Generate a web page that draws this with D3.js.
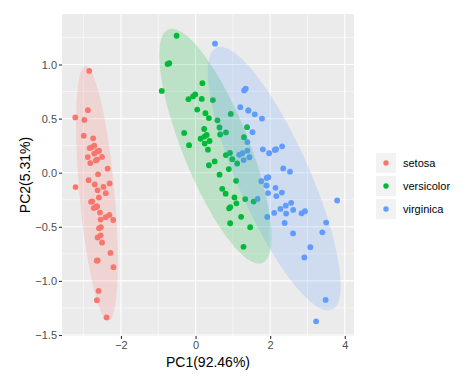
<!DOCTYPE html>
<html>
<head>
<meta charset="utf-8">
<script src="https://cdn.jsdelivr.net/npm/d3@7"></script>
<style>
  body { margin: 0; background: #fff; }
  text { font-family: "Liberation Sans", Arial, sans-serif; }
</style>
</head>
<body>
<script>
// DATA (PCA scores of iris, PC2 as shown)
var species = ["setosa", "versicolor", "virginica"];
var colors = ["#F8766D", "#00BA38", "#619CFF"];

var setosaPC1 = [-2.684,-2.714,-2.889,-2.745,-2.729,-2.281,-2.821,-2.626,-2.886,-2.673,-2.507,-2.613,-2.786,-3.224,-2.645,-2.386,-2.624,-2.648,-2.200,-2.588,-2.310,-2.544,-3.216,-2.303,-2.356,-2.507,-2.469,-2.562,-2.640,-2.632,-2.587,-2.410,-2.649,-2.599,-2.637,-2.866,-2.625,-2.801,-2.981,-2.590,-2.770,-2.849,-2.997,-2.406,-2.209,-2.714,-2.538,-2.839,-2.543,-2.703];
var setosaPC2 = [-0.319,0.177,0.145,0.318,-0.327,-0.741,0.089,-0.163,0.578,0.114,-0.645,-0.015,0.235,0.511,-1.179,-1.338,-0.811,-0.312,-0.873,-0.514,-0.391,-0.433,-0.133,-0.099,0.037,0.146,-0.131,-0.368,-0.312,0.197,0.204,-0.411,-0.813,-1.093,0.121,-0.069,-0.599,-0.269,0.488,-0.229,-0.264,0.941,0.342,-0.189,-0.437,0.250,-0.504,0.228,-0.579,-0.108];

var versicolorPC1 = [1.285,0.932,1.464,0.183,1.088,0.642,1.095,-0.749,1.044,-0.009,-0.508,0.512,0.265,0.985,-0.174,0.928,0.660,0.236,0.945,0.045,1.116,0.358,1.298,0.922,0.715,0.900,1.332,1.558,0.813,-0.306,-0.068,-0.190,0.136,1.380,0.588,0.807,1.221,0.815,0.246,0.166,0.465,0.891,0.231,-0.705,0.357,0.332,0.376,0.643,-0.906,0.299];
var versicolorPC2 = [-0.685,-0.318,-0.504,0.828,-0.075,0.418,-0.283,1.005,-0.228,0.723,1.266,0.104,0.550,0.125,0.255,-0.467,0.353,0.334,0.543,0.584,0.085,0.069,0.328,0.183,-0.149,-0.329,-0.244,-0.267,0.163,0.368,0.705,0.680,0.314,0.421,0.484,-0.194,-0.408,0.372,0.269,0.682,0.671,0.034,0.404,1.012,0.505,0.213,0.293,-0.018,0.756,0.349];

var virginicaPC1 = [2.531,1.415,2.617,1.972,2.350,3.397,0.521,2.933,2.321,2.917,1.662,1.803,2.166,1.346,1.586,1.904,1.950,3.487,3.796,1.301,2.428,1.199,3.500,1.389,2.275,2.614,1.259,1.291,2.124,2.388,2.842,3.231,2.159,1.444,1.781,3.076,2.144,1.905,1.169,2.108,2.314,1.922,1.415,2.563,2.419,1.944,1.527,1.764,1.901,1.390];
var virginicaPC2 = [0.010,0.575,-0.344,0.180,0.040,-0.551,1.193,-0.356,0.244,-0.783,-0.242,0.216,-0.216,0.777,0.540,-0.119,-0.042,-1.176,-0.257,0.761,-0.378,0.606,-0.461,0.204,-0.335,-0.561,0.180,0.117,0.210,-0.465,-0.375,-1.374,0.217,0.143,0.500,-0.688,-0.140,-0.049,0.165,-0.372,-0.184,-0.409,0.575,-0.278,-0.305,-0.188,0.375,-0.079,-0.117,0.283];

var xTicks = [-2, 0, 2, 4];
var yTicks = [-1.5, -1.0, -0.5, 0.0, 0.5, 1.0];
var xTitle = "PC1(92.46%)";
var yTitle = "PC2(5.31%)";

var groups = [
  {name: species[0], color: colors[0], x: setosaPC1, y: setosaPC2},
  {name: species[1], color: colors[1], x: versicolorPC1, y: versicolorPC2},
  {name: species[2], color: colors[2], x: virginicaPC1, y: virginicaPC2}
];

// classical covariance (cov.wt)
function covNorm(xs, ys) {
  var n = xs.length, mx = d3.mean(xs), my = d3.mean(ys);
  var a = 0, b = 0, c = 0;
  xs.forEach(function(v, i){
    a += (v - mx) * (v - mx); b += (v - mx) * (ys[i] - my); c += (ys[i] - my) * (ys[i] - my);
  });
  return {center: [mx, my], cov: [a / (n - 1), b / (n - 1), c / (n - 1)]};
}

// stat_ellipse, level 0.95
function ellipse(xs, ys) {
  var v = covNorm(xs, ys);
  var d2 = xs.length - 1;
  var f = (d2 / 2) * (Math.pow(0.05, -2 / d2) - 1);
  var radius = Math.sqrt(2 * f);
  var r11 = Math.sqrt(v.cov[0]), r12 = v.cov[1] / r11, r22 = Math.sqrt(v.cov[2] - r12 * r12);
  return d3.range(52).map(function(k){
    var t = k * 2 * Math.PI / 51;
    return [v.center[0] + radius * Math.cos(t) * r11,
            v.center[1] + radius * (Math.cos(t) * r12 + Math.sin(t) * r22)];
  });
}
groups.forEach(function(g){ g.ell = ellipse(g.x, g.y); });

// limits from points and ellipses, 5% expansion
var allX = [], allY = [];
groups.forEach(function(g){
  allX = allX.concat(g.x, g.ell.map(function(e){ return e[0]; }));
  allY = allY.concat(g.y, g.ell.map(function(e){ return e[1]; }));
});
var xe = d3.extent(allX), ye = d3.extent(allY);
var xpad = (xe[1] - xe[0]) * 0.05, ypad = (ye[1] - ye[0]) * 0.05;

var width = 474, height = 380;
var panel = {left: 62, right: 354, top: 14, bottom: 336};

var x = d3.scaleLinear().domain([xe[0] - xpad, xe[1] + xpad]).range([panel.left, panel.right]);
var y = d3.scaleLinear().domain([ye[0] - ypad, ye[1] + ypad]).range([panel.bottom, panel.top]);

var svg = d3.select("body").append("svg")
  .attr("width", width)
  .attr("height", height);

// panel background
svg.append("rect")
  .attr("x", panel.left)
  .attr("y", panel.top)
  .attr("width", panel.right - panel.left)
  .attr("height", panel.bottom - panel.top)
  .attr("fill", "#EBEBEB");

// minor grid
var xMinor = xTicks.map(function(t){ return t - 1; }).concat([xTicks[xTicks.length - 1] + 1])
  .filter(function(t){ return t > x.domain()[0] && t < x.domain()[1]; });
var yMinor = yTicks.map(function(t){ return t - 0.25; }).concat([yTicks[yTicks.length - 1] + 0.25])
  .filter(function(t){ return t > y.domain()[0] && t < y.domain()[1]; });

svg.selectAll(".xminor").data(xMinor).enter().append("line")
  .attr("class", "xminor")
  .attr("x1", function(d){ return x(d); }).attr("x2", function(d){ return x(d); })
  .attr("y1", panel.top).attr("y2", panel.bottom)
  .attr("stroke", "#fff").attr("stroke-width", 0.55);
svg.selectAll(".yminor").data(yMinor).enter().append("line")
  .attr("class", "yminor")
  .attr("y1", function(d){ return y(d); }).attr("y2", function(d){ return y(d); })
  .attr("x1", panel.left).attr("x2", panel.right)
  .attr("stroke", "#fff").attr("stroke-width", 0.55);

// major grid
svg.selectAll(".xmajor").data(xTicks).enter().append("line")
  .attr("class", "xmajor")
  .attr("x1", function(d){ return x(d); }).attr("x2", function(d){ return x(d); })
  .attr("y1", panel.top).attr("y2", panel.bottom)
  .attr("stroke", "#fff").attr("stroke-width", 1.1);
svg.selectAll(".ymajor").data(yTicks).enter().append("line")
  .attr("class", "ymajor")
  .attr("y1", function(d){ return y(d); }).attr("y2", function(d){ return y(d); })
  .attr("x1", panel.left).attr("x2", panel.right)
  .attr("stroke", "#fff").attr("stroke-width", 1.1);

// points
groups.forEach(function(g){
  svg.append("g").selectAll("circle").data(g.x).enter().append("circle")
    .attr("cx", function(d){ return x(d); })
    .attr("cy", function(d, i){ return y(g.y[i]); })
    .attr("r", 2.9)
    .attr("fill", g.color);
});

// ellipses
var line = d3.line().x(function(d){ return x(d[0]); }).y(function(d){ return y(d[1]); });
groups.forEach(function(g){
  svg.append("path")
    .attr("d", line(g.ell) + "Z")
    .attr("fill", g.color)
    .attr("fill-opacity", 0.2)
    .attr("stroke", "none");
});

// axes
var xAxis = svg.append("g")
  .attr("transform", "translate(0," + panel.bottom + ")")
  .call(d3.axisBottom(x).tickValues(xTicks).tickSize(3).tickPadding(2).tickFormat(d3.format("d")));
var yAxis = svg.append("g")
  .attr("transform", "translate(" + panel.left + ",0)")
  .call(d3.axisLeft(y).tickValues(yTicks).tickSize(3).tickPadding(2).tickFormat(d3.format(".1f")));
[xAxis, yAxis].forEach(function(a){
  a.select(".domain").remove();
  a.selectAll(".tick line").attr("stroke", "#333").attr("stroke-width", 1.1);
  a.selectAll(".tick text")
    .style("font-size", "11px")
    .style("fill", "#4D4D4D")
    .style("font-family", "'Liberation Sans', Arial, sans-serif");
});

// axis titles
svg.append("text")
  .attr("x", (panel.left + panel.right) / 2)
  .attr("y", 367)
  .attr("text-anchor", "middle")
  .style("font-size", "14px")
  .style("fill", "#000")
  .text(xTitle);
svg.append("text")
  .attr("transform", "translate(30," + (panel.top + panel.bottom) / 2 + ") rotate(-90)")
  .attr("text-anchor", "middle")
  .style("font-size", "14px")
  .style("fill", "#000")
  .text(yTitle);

// legend
var legend = svg.append("g").attr("transform", "translate(376,153)");
groups.forEach(function(g, i){
  var row = legend.append("g").attr("transform", "translate(0," + (i * 23) + ")");
  row.append("rect")
    .attr("width", 20).attr("height", 20)
    .attr("fill", "#F2F2F2");
  row.append("circle")
    .attr("cx", 10).attr("cy", 10).attr("r", 2.7)
    .attr("fill", g.color);
  row.append("text")
    .attr("x", 27).attr("y", 14)
    .style("font-size", "11px")
    .style("fill", "#000")
    .text(g.name);
});
</script>
</body>
</html>
